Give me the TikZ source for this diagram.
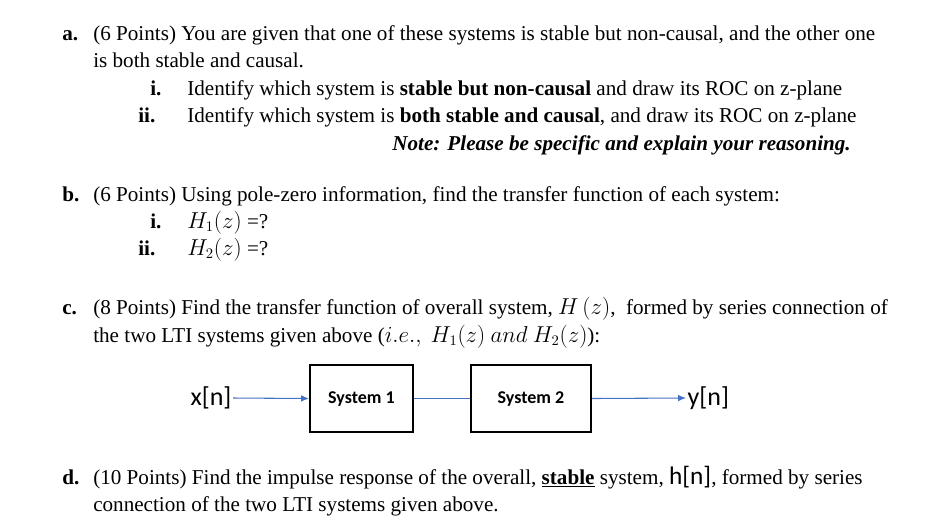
\documentclass[tikz,border=0pt]{standalone}
\usepackage{fontspec}
\setmainfont{Liberation Serif}
\newfontfamily\carl{Carlito}
\usetikzlibrary{arrows.meta}
\begin{document}
\begin{tikzpicture}[x=0.75pt,y=-0.75pt,
  txt/.style={anchor=base west,inner sep=0pt,font=\fontsize{15.85}{18}\selectfont},
  blk/.style={draw,line width=1.7pt,minimum width=77pt,minimum height=50pt,font=\carl\bfseries\fontsize{13.5}{15}\selectfont},
  sig/.style={inner sep=1pt,font=\carl\fontsize{19.5}{21}\selectfont},
  flow/.style={draw={rgb,255:red,68;green,114;blue,196},line width=0.8pt},
  tip/.style={-{Latex[length=6pt,width=5pt]}}]
\useasboundingbox (0,0) rectangle (930,526);
\node[txt] (la) at (62,40) {\textbf{a.}};
\node[txt] (ta) at (93,40) {(6 Points) You are given that one of these systems is stable but non-causal, and the other one};
\node[txt] (ta2) at (93,67) {is both stable and causal.};
\node[txt] (ai) at (150,95) {\textbf{i.}};
\node[txt] (aitxt) at (187,95) {Identify which system is \textbf{stable but non-causal} and draw its ROC on z-plane};
\node[txt] (aii) at (138,122) {\textbf{ii.}};
\node[txt] (aiitxt) at (187,122) {Identify which system is \textbf{both stable and causal}, and draw its ROC on z-plane};
\node[txt,anchor=base east] (note) at (851,150) {\textbf{\textit{Note: Please be specific and explain your reasoning.}}};
\node[txt] (lb) at (62,201) {\textbf{b.}};
\node[txt] (tb) at (93,201) {(6 Points) Using pole-zero information, find the transfer function of each system:};
\node[txt] (bi) at (150,228) {\textbf{i.}};
\node[txt] (bitxt) at (187,228) {$H_1(z)$ =?};
\node[txt] (bii) at (138,255) {\textbf{ii.}};
\node[txt] (biitxt) at (187,255) {$H_2(z)$ =?};
\node[txt] (lc) at (62,314) {\textbf{c.}};
\node[txt] (tc) at (93,314) {(8 Points) Find the transfer function of overall system, $H\,(z)$, \ formed by series connection of};
\node[txt] (tc2) at (93,342) {the two LTI systems given above ($i.e.,\ H_1(z)\ and\ H_2(z)$):};
\node[sig,anchor=east] (x) at (233,398) {x[n]};
\node[blk] (s1) at (361.5,398.5) {System 1};
\node[blk,minimum width=90pt] (s2) at (531,398.5) {System 2};
\node[sig,anchor=west] (y) at (686,398) {y[n]};
\draw[flow,tip] (x.east) -- (s1.west);
\draw[flow] (s1.east) -- (s2.west);
\draw[flow,tip] (s2.east) -- (y.west);
\node[txt] (ld) at (62,484) {\textbf{d.}};
\node[txt] (td) at (93,484) {(10 Points) Find the impulse response of the overall, \underline{\textbf{stable}} system, {\carl\fontsize{19}{19}\selectfont h[n]}, formed by series};
\node[txt] (td2) at (93,511) {connection of the two LTI systems given above.};
\end{tikzpicture}
\end{document}
